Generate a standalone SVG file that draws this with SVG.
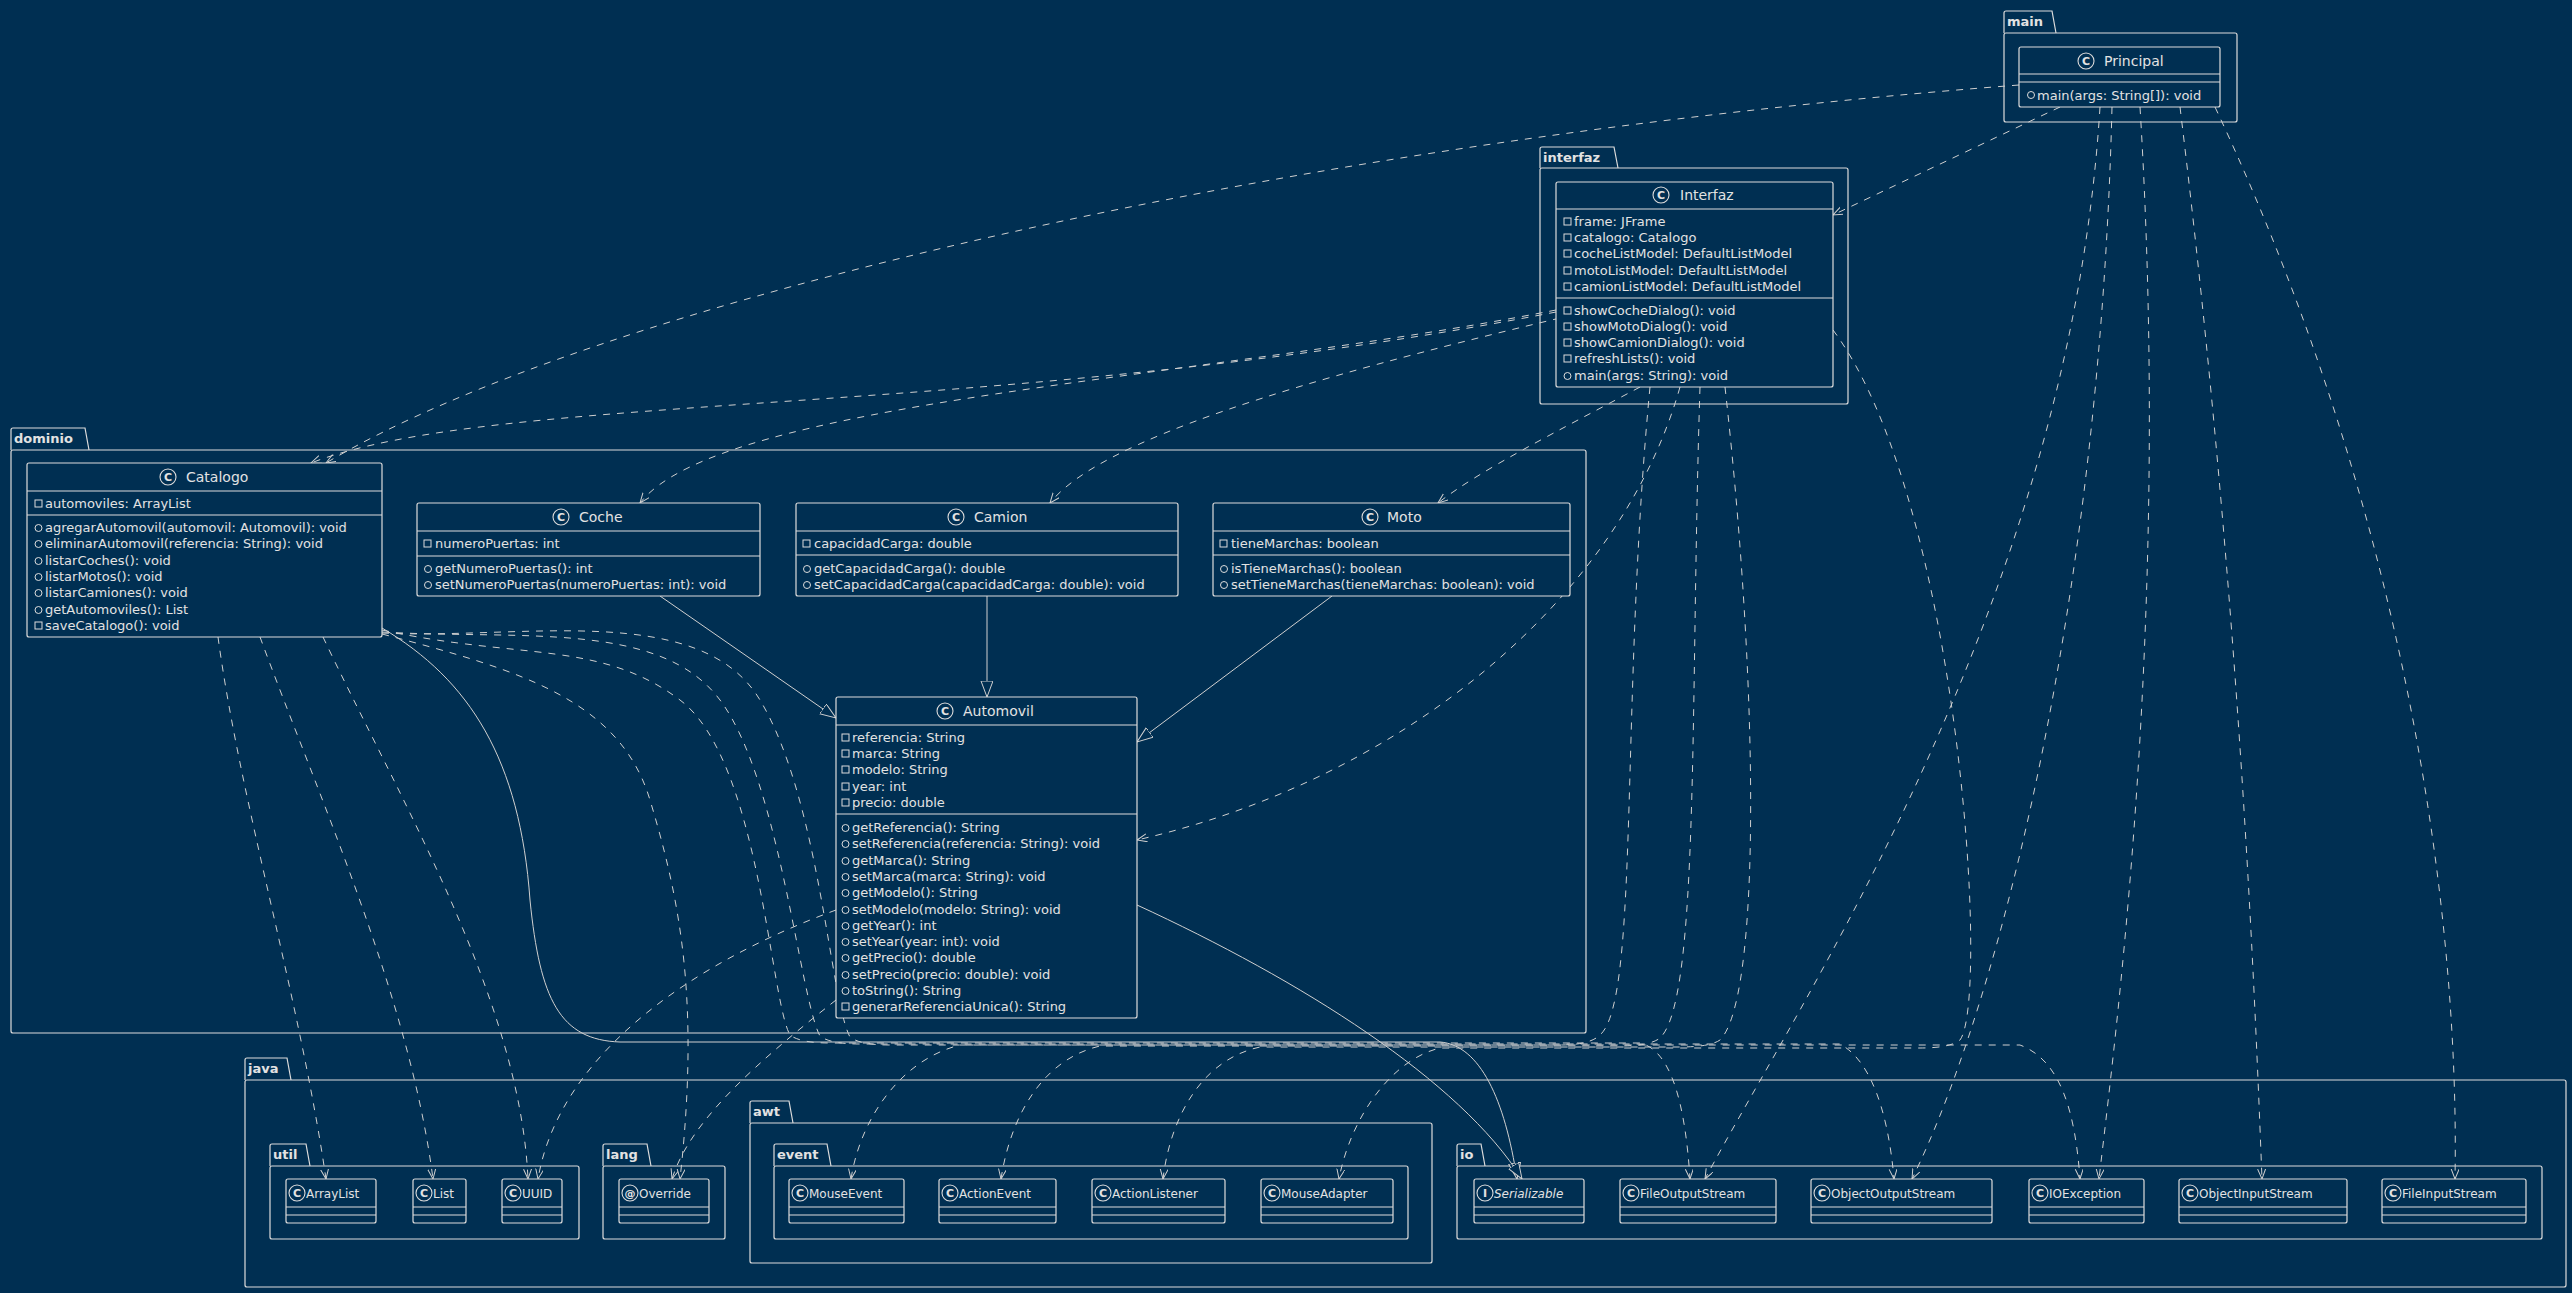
<svg xmlns="http://www.w3.org/2000/svg" width="2572" height="1293" viewBox="0 0 2572 1293">
<style>
text{font-family:"DejaVu Sans","Liberation Sans",sans-serif;fill:#e2e2e2;font-size:13px}
.t{font-size:14px}
.s{font-size:12px}
.pk{font-weight:bold;font-size:13px}
.ic{font-weight:bold;font-size:11px;text-anchor:middle}
.box{fill:#002f52;stroke:#dcdcdc;stroke-width:1.2}
.ln{stroke:#dcdcdc;stroke-width:1.2}
.pkg{fill:none;stroke:#dcdcdc;stroke-width:1.2}
.ico{fill:none;stroke:#dcdcdc;stroke-width:1.1}
.dep{fill:none;stroke:#d0d0d0;stroke-width:1;stroke-dasharray:7,7;marker-end:url(#oa)}
.ext{fill:none;stroke:#d0d0d0;stroke-width:1;marker-end:url(#tri)}
</style>
<defs>
<marker id="oa" markerWidth="12" markerHeight="10" refX="10" refY="4" orient="auto" markerUnits="userSpaceOnUse"><path d="M0,0 L10,4 L0,8" fill="none" stroke="#d0d0d0" stroke-width="1"/></marker>
<marker id="tri" markerWidth="18" markerHeight="14" refX="16" refY="6" orient="auto" markerUnits="userSpaceOnUse"><path d="M0,0 L16,6 L0,12 Z" fill="#002f52" stroke="#d0d0d0" stroke-width="1"/></marker>
<rect id="pv" width="7" height="7" fill="none" stroke="#dcdcdc" stroke-width="1"/>
<circle id="pb" r="3.5" fill="none" stroke="#dcdcdc" stroke-width="1"/>
</defs>
<rect width="2572" height="1293" fill="#002f52"/>

<!-- packages -->
<g id="pkg-main"><path class="pkg" d="M2004,33 V13 Q2004,11 2006,11 H2052 L2056,33"/><rect class="pkg" x="2004" y="33" width="233" height="89" rx="2"/><text class="pk" x="2007" y="26">main</text></g>
<g id="pkg-interfaz"><path class="pkg" d="M1540,168 V149 Q1540,147 1542,147 H1614 L1618,168"/><rect class="pkg" x="1540" y="168" width="308" height="236" rx="2"/><text class="pk" x="1543" y="162">interfaz</text></g>
<g id="pkg-dominio"><path class="pkg" d="M11,450 V430 Q11,428 13,428 H85 L89,450"/><rect class="pkg" x="11" y="450" width="1575" height="583" rx="2"/><text class="pk" x="14" y="443">dominio</text></g>
<g id="pkg-java"><path class="pkg" d="M245,1080 V1060 Q245,1058 247,1058 H287 L291,1080"/><rect class="pkg" x="245" y="1080" width="2321" height="207" rx="2"/><text class="pk" x="248" y="1073">java</text></g>
<g id="pkg-util"><path class="pkg" d="M270,1166 V1146 Q270,1144 272,1144 H306 L310,1166"/><rect class="pkg" x="270" y="1166" width="309" height="73" rx="2"/><text class="pk" x="273" y="1159">util</text></g>
<g id="pkg-lang"><path class="pkg" d="M603,1166 V1146 Q603,1144 605,1144 H647 L651,1166"/><rect class="pkg" x="603" y="1166" width="122" height="73" rx="2"/><text class="pk" x="606" y="1159">lang</text></g>
<g id="pkg-awt"><path class="pkg" d="M750,1123 V1103 Q750,1101 752,1101 H789 L793,1123"/><rect class="pkg" x="750" y="1123" width="682" height="140" rx="2"/><text class="pk" x="753" y="1116">awt</text></g>
<g id="pkg-event"><path class="pkg" d="M774,1166 V1146 Q774,1144 776,1144 H827 L831,1166"/><rect class="pkg" x="774" y="1166" width="634" height="73" rx="2"/><text class="pk" x="777" y="1159">event</text></g>
<g id="pkg-io"><path class="pkg" d="M1457,1166 V1146 Q1457,1144 1459,1144 H1481 L1485,1166"/><rect class="pkg" x="1457" y="1166" width="1085" height="73" rx="2"/><text class="pk" x="1460" y="1159">io</text></g>

<!-- connectors -->
<g id="connectors">
<path class="dep" d="M2019,85 C1300,140 600,300 326,463"/>
<path class="dep" d="M2060,107 L1833,215"/>
<path class="dep" d="M2100,107 C2070,600 1800,1000 1705,1179"/>
<path class="dep" d="M2112,107 C2100,600 2000,1000 1912,1179"/>
<path class="dep" d="M2140,107 C2170,600 2120,1000 2099,1179"/>
<path class="dep" d="M2180,107 C2240,600 2255,1000 2262,1179"/>
<path class="dep" d="M2215,107 C2400,500 2460,900 2455,1179"/>
<path class="dep" d="M1556,312 C1000,420 500,390 311,463"/>
<path class="dep" d="M1556,310 C1200,380 720,400 640,503"/>
<path class="dep" d="M1560,318 C1300,380 1100,440 1050,503"/>
<path class="dep" d="M1640,387 C1560,430 1480,470 1438,503"/>
<path class="dep" d="M1680,387 C1620,600 1400,780 1137,840"/>
<path class="dep" d="M1650,387 C1620,700 1640,1000 1600,1035 Q1590,1045 1560,1045 L960,1045 C900,1060 860,1120 851,1179"/>
<path class="dep" d="M1700,387 C1690,700 1700,1000 1660,1038 Q1650,1046 1620,1046 L1100,1046 C1040,1060 1010,1120 1001,1179"/>
<path class="dep" d="M1725,387 C1760,700 1760,1000 1720,1040 Q1710,1047 1680,1047 L1260,1047 C1200,1060 1170,1120 1163,1179"/>
<path class="dep" d="M1833,330 C1960,500 1990,1000 1960,1040 Q1950,1048 1920,1048 L1440,1048 C1390,1060 1350,1120 1339,1179"/>
<path class="dep" d="M218,637 C240,800 300,1000 326,1179"/>
<path class="dep" d="M260,637 C320,800 410,1000 433,1179"/>
<path class="dep" d="M323,637 C400,800 520,1000 528,1179"/>
<path class="dep" d="M836,910 C700,960 560,1050 538,1179"/>
<path class="dep" d="M836,1000 C760,1060 690,1120 672,1179"/>
<path class="dep" d="M382,634 C520,670 620,700 650,800 C680,900 700,1000 680,1179"/>
<path class="dep" d="M382,630 C520,660 600,640 680,700 C760,760 770,1000 790,1035 Q800,1043 830,1043 L1640,1043 C1670,1050 1685,1100 1690,1179"/>
<path class="dep" d="M382,632 C520,640 660,620 720,700 C780,780 800,1000 820,1036 Q830,1044 860,1044 L1840,1044 C1870,1060 1888,1110 1894,1179"/>
<path class="dep" d="M382,633 C520,640 700,600 760,700 C820,800 830,1000 850,1037 Q860,1045 890,1045 L2020,1045 C2060,1060 2075,1110 2080,1179"/>
<path class="ext" d="M382,628 C470,680 520,760 530,900 C540,1000 560,1040 620,1042 L1440,1042 C1480,1045 1505,1100 1517,1179"/>
<path class="ext" d="M1137,905 C1300,980 1460,1080 1522,1179"/>
<path class="ext" d="M660,596 L836,718"/>
<path class="ext" d="M987,596 L987,697"/>
<path class="ext" d="M1332,596 L1137,742"/>
</g>

<!-- Principal -->
<g id="Principal">
<rect class="box" x="2019" y="47" width="201" height="60" rx="2"/>
<line class="ln" x1="2019" y1="74" x2="2220" y2="74"/><line class="ln" x1="2019" y1="82" x2="2220" y2="82"/>
<circle class="ico" cx="2086" cy="61" r="8"/><text class="ic" x="2086" y="65">C</text>
<text class="t" x="2104" y="66">Principal</text>
<use href="#pb" x="2031" y="95"/><text x="2037" y="100">main(args: String[]): void</text>
</g>

<!-- Interfaz -->
<g id="Interfaz">
<rect class="box" x="1556" y="182" width="277" height="205" rx="2"/>
<line class="ln" x1="1556" y1="209" x2="1833" y2="209"/><line class="ln" x1="1556" y1="298" x2="1833" y2="298"/>
<circle class="ico" cx="1661" cy="195" r="8"/><text class="ic" x="1661" y="199">C</text>
<text class="t" x="1680" y="200">Interfaz</text>
<use href="#pv" x="1564" y="218"/><text x="1574" y="226">frame: JFrame</text>
<use href="#pv" x="1564" y="234"/><text x="1574" y="242">catalogo: Catalogo</text>
<use href="#pv" x="1564" y="250"/><text x="1574" y="258">cocheListModel: DefaultListModel</text>
<use href="#pv" x="1564" y="267"/><text x="1574" y="275">motoListModel: DefaultListModel</text>
<use href="#pv" x="1564" y="283"/><text x="1574" y="291">camionListModel: DefaultListModel</text>
<use href="#pv" x="1564" y="307"/><text x="1574" y="315">showCocheDialog(): void</text>
<use href="#pv" x="1564" y="323"/><text x="1574" y="331">showMotoDialog(): void</text>
<use href="#pv" x="1564" y="339"/><text x="1574" y="347">showCamionDialog(): void</text>
<use href="#pv" x="1564" y="355"/><text x="1574" y="363">refreshLists(): void</text>
<use href="#pb" x="1567.5" y="376"/><text x="1574" y="380">main(args: String): void</text>
</g>

<!-- Catalogo -->
<g id="Catalogo">
<rect class="box" x="27" y="463" width="355" height="174" rx="2"/>
<line class="ln" x1="27" y1="491" x2="382" y2="491"/><line class="ln" x1="27" y1="515" x2="382" y2="515"/>
<circle class="ico" cx="168" cy="477" r="8"/><text class="ic" x="168" y="481">C</text>
<text class="t" x="186" y="482">Catalogo</text>
<use href="#pv" x="35" y="500"/><text x="45" y="508">automoviles: ArrayList</text>
<use href="#pb" x="38.5" y="528"/><text x="45" y="532">agregarAutomovil(automovil: Automovil): void</text>
<use href="#pb" x="38.5" y="544"/><text x="45" y="548">eliminarAutomovil(referencia: String): void</text>
<use href="#pb" x="38.5" y="561"/><text x="45" y="565">listarCoches(): void</text>
<use href="#pb" x="38.5" y="577"/><text x="45" y="581">listarMotos(): void</text>
<use href="#pb" x="38.5" y="593"/><text x="45" y="597">listarCamiones(): void</text>
<use href="#pb" x="38.5" y="610"/><text x="45" y="614">getAutomoviles(): List</text>
<use href="#pv" x="35" y="622"/><text x="45" y="630">saveCatalogo(): void</text>
</g>

<!-- Coche -->
<g id="Coche">
<rect class="box" x="417" y="503" width="343" height="93" rx="2"/>
<line class="ln" x1="417" y1="531" x2="760" y2="531"/><line class="ln" x1="417" y1="556" x2="760" y2="556"/>
<circle class="ico" cx="561" cy="517" r="8"/><text class="ic" x="561" y="521">C</text>
<text class="t" x="579" y="522">Coche</text>
<use href="#pv" x="424" y="540"/><text x="435" y="548">numeroPuertas: int</text>
<use href="#pb" x="428" y="569"/><text x="435" y="573">getNumeroPuertas(): int</text>
<use href="#pb" x="428" y="585"/><text x="435" y="589">setNumeroPuertas(numeroPuertas: int): void</text>
</g>

<!-- Camion -->
<g id="Camion">
<rect class="box" x="796" y="503" width="382" height="93" rx="2"/>
<line class="ln" x1="796" y1="531" x2="1178" y2="531"/><line class="ln" x1="796" y1="555" x2="1178" y2="555"/>
<circle class="ico" cx="956" cy="517" r="8"/><text class="ic" x="956" y="521">C</text>
<text class="t" x="974" y="522">Camion</text>
<use href="#pv" x="803" y="540"/><text x="814" y="548">capacidadCarga: double</text>
<use href="#pb" x="807" y="569"/><text x="814" y="573">getCapacidadCarga(): double</text>
<use href="#pb" x="807" y="585"/><text x="814" y="589">setCapacidadCarga(capacidadCarga: double): void</text>
</g>

<!-- Moto -->
<g id="Moto">
<rect class="box" x="1213" y="503" width="357" height="93" rx="2"/>
<line class="ln" x1="1213" y1="531" x2="1570" y2="531"/><line class="ln" x1="1213" y1="555" x2="1570" y2="555"/>
<circle class="ico" cx="1370" cy="517" r="8"/><text class="ic" x="1370" y="521">C</text>
<text class="t" x="1387" y="522">Moto</text>
<use href="#pv" x="1220" y="540"/><text x="1231" y="548">tieneMarchas: boolean</text>
<use href="#pb" x="1224" y="569"/><text x="1231" y="573">isTieneMarchas(): boolean</text>
<use href="#pb" x="1224" y="585"/><text x="1231" y="589">setTieneMarchas(tieneMarchas: boolean): void</text>
</g>

<!-- Automovil -->
<g id="Automovil">
<rect class="box" x="836" y="697" width="301" height="321" rx="2"/>
<line class="ln" x1="836" y1="725" x2="1137" y2="725"/><line class="ln" x1="836" y1="814" x2="1137" y2="814"/>
<circle class="ico" cx="945" cy="711" r="8"/><text class="ic" x="945" y="715">C</text>
<text class="t" x="963" y="716">Automovil</text>
<use href="#pv" x="842" y="734"/><text x="852" y="742">referencia: String</text>
<use href="#pv" x="842" y="750"/><text x="852" y="758">marca: String</text>
<use href="#pv" x="842" y="766"/><text x="852" y="774">modelo: String</text>
<use href="#pv" x="842" y="783"/><text x="852" y="791">year: int</text>
<use href="#pv" x="842" y="799"/><text x="852" y="807">precio: double</text>
<use href="#pb" x="845.5" y="828"/><text x="852" y="832">getReferencia(): String</text>
<use href="#pb" x="845.5" y="844"/><text x="852" y="848">setReferencia(referencia: String): void</text>
<use href="#pb" x="845.5" y="861"/><text x="852" y="865">getMarca(): String</text>
<use href="#pb" x="845.5" y="877"/><text x="852" y="881">setMarca(marca: String): void</text>
<use href="#pb" x="845.5" y="893"/><text x="852" y="897">getModelo(): String</text>
<use href="#pb" x="845.5" y="910"/><text x="852" y="914">setModelo(modelo: String): void</text>
<use href="#pb" x="845.5" y="926"/><text x="852" y="930">getYear(): int</text>
<use href="#pb" x="845.5" y="942"/><text x="852" y="946">setYear(year: int): void</text>
<use href="#pb" x="845.5" y="958"/><text x="852" y="962">getPrecio(): double</text>
<use href="#pb" x="845.5" y="975"/><text x="852" y="979">setPrecio(precio: double): void</text>
<use href="#pb" x="845.5" y="991"/><text x="852" y="995">toString(): String</text>
<use href="#pv" x="842" y="1003"/><text x="852" y="1011">generarReferenciaUnica(): String</text>
</g>

<!-- small classes -->
<g id="ArrayList"><rect class="box" x="286" y="1179" width="90" height="44" rx="2"/><line class="ln" x1="286" y1="1207" x2="376" y2="1207"/><line class="ln" x1="286" y1="1215" x2="376" y2="1215"/><circle class="ico" cx="297" cy="1193" r="8"/><text class="ic" x="297" y="1197">C</text><text class="s" x="306" y="1198">ArrayList</text></g>
<g id="List"><rect class="box" x="413" y="1179" width="53" height="44" rx="2"/><line class="ln" x1="413" y1="1207" x2="466" y2="1207"/><line class="ln" x1="413" y1="1215" x2="466" y2="1215"/><circle class="ico" cx="424" cy="1193" r="8"/><text class="ic" x="424" y="1197">C</text><text class="s" x="433" y="1198">List</text></g>
<g id="UUID"><rect class="box" x="502" y="1179" width="60" height="44" rx="2"/><line class="ln" x1="502" y1="1207" x2="562" y2="1207"/><line class="ln" x1="502" y1="1215" x2="562" y2="1215"/><circle class="ico" cx="513" cy="1193" r="8"/><text class="ic" x="513" y="1197">C</text><text class="s" x="522" y="1198">UUID</text></g>
<g id="Override"><rect class="box" x="619" y="1179" width="90" height="44" rx="2"/><line class="ln" x1="619" y1="1207" x2="709" y2="1207"/><line class="ln" x1="619" y1="1215" x2="709" y2="1215"/><circle class="ico" cx="630" cy="1193" r="8"/><text class="ic" x="630" y="1197">@</text><text class="s" x="639" y="1198">Override</text></g>
<g id="MouseEvent"><rect class="box" x="789" y="1179" width="115" height="44" rx="2"/><line class="ln" x1="789" y1="1207" x2="904" y2="1207"/><line class="ln" x1="789" y1="1215" x2="904" y2="1215"/><circle class="ico" cx="800" cy="1193" r="8"/><text class="ic" x="800" y="1197">C</text><text class="s" x="809" y="1198">MouseEvent</text></g>
<g id="ActionEvent"><rect class="box" x="939" y="1179" width="117" height="44" rx="2"/><line class="ln" x1="939" y1="1207" x2="1056" y2="1207"/><line class="ln" x1="939" y1="1215" x2="1056" y2="1215"/><circle class="ico" cx="950" cy="1193" r="8"/><text class="ic" x="950" y="1197">C</text><text class="s" x="959" y="1198">ActionEvent</text></g>
<g id="ActionListener"><rect class="box" x="1092" y="1179" width="133" height="44" rx="2"/><line class="ln" x1="1092" y1="1207" x2="1225" y2="1207"/><line class="ln" x1="1092" y1="1215" x2="1225" y2="1215"/><circle class="ico" cx="1103" cy="1193" r="8"/><text class="ic" x="1103" y="1197">C</text><text class="s" x="1112" y="1198">ActionListener</text></g>
<g id="MouseAdapter"><rect class="box" x="1261" y="1179" width="132" height="44" rx="2"/><line class="ln" x1="1261" y1="1207" x2="1393" y2="1207"/><line class="ln" x1="1261" y1="1215" x2="1393" y2="1215"/><circle class="ico" cx="1272" cy="1193" r="8"/><text class="ic" x="1272" y="1197">C</text><text class="s" x="1281" y="1198">MouseAdapter</text></g>
<g id="Serializable"><rect class="box" x="1474" y="1179" width="110" height="44" rx="2"/><line class="ln" x1="1474" y1="1207" x2="1584" y2="1207"/><line class="ln" x1="1474" y1="1215" x2="1584" y2="1215"/><circle class="ico" cx="1485" cy="1193" r="8"/><text class="ic" x="1485" y="1197">I</text><text class="s" x="1494" y="1198" font-style="italic">Serializable</text></g>
<g id="FileOutputStream"><rect class="box" x="1620" y="1179" width="156" height="44" rx="2"/><line class="ln" x1="1620" y1="1207" x2="1776" y2="1207"/><line class="ln" x1="1620" y1="1215" x2="1776" y2="1215"/><circle class="ico" cx="1631" cy="1193" r="8"/><text class="ic" x="1631" y="1197">C</text><text class="s" x="1640" y="1198">FileOutputStream</text></g>
<g id="ObjectOutputStream"><rect class="box" x="1811" y="1179" width="181" height="44" rx="2"/><line class="ln" x1="1811" y1="1207" x2="1992" y2="1207"/><line class="ln" x1="1811" y1="1215" x2="1992" y2="1215"/><circle class="ico" cx="1822" cy="1193" r="8"/><text class="ic" x="1822" y="1197">C</text><text class="s" x="1831" y="1198">ObjectOutputStream</text></g>
<g id="IOException"><rect class="box" x="2029" y="1179" width="115" height="44" rx="2"/><line class="ln" x1="2029" y1="1207" x2="2144" y2="1207"/><line class="ln" x1="2029" y1="1215" x2="2144" y2="1215"/><circle class="ico" cx="2040" cy="1193" r="8"/><text class="ic" x="2040" y="1197">C</text><text class="s" x="2049" y="1198">IOException</text></g>
<g id="ObjectInputStream"><rect class="box" x="2179" y="1179" width="168" height="44" rx="2"/><line class="ln" x1="2179" y1="1207" x2="2347" y2="1207"/><line class="ln" x1="2179" y1="1215" x2="2347" y2="1215"/><circle class="ico" cx="2190" cy="1193" r="8"/><text class="ic" x="2190" y="1197">C</text><text class="s" x="2199" y="1198">ObjectInputStream</text></g>
<g id="FileInputStream"><rect class="box" x="2382" y="1179" width="144" height="44" rx="2"/><line class="ln" x1="2382" y1="1207" x2="2526" y2="1207"/><line class="ln" x1="2382" y1="1215" x2="2526" y2="1215"/><circle class="ico" cx="2393" cy="1193" r="8"/><text class="ic" x="2393" y="1197">C</text><text class="s" x="2402" y="1198">FileInputStream</text></g>
</svg>
